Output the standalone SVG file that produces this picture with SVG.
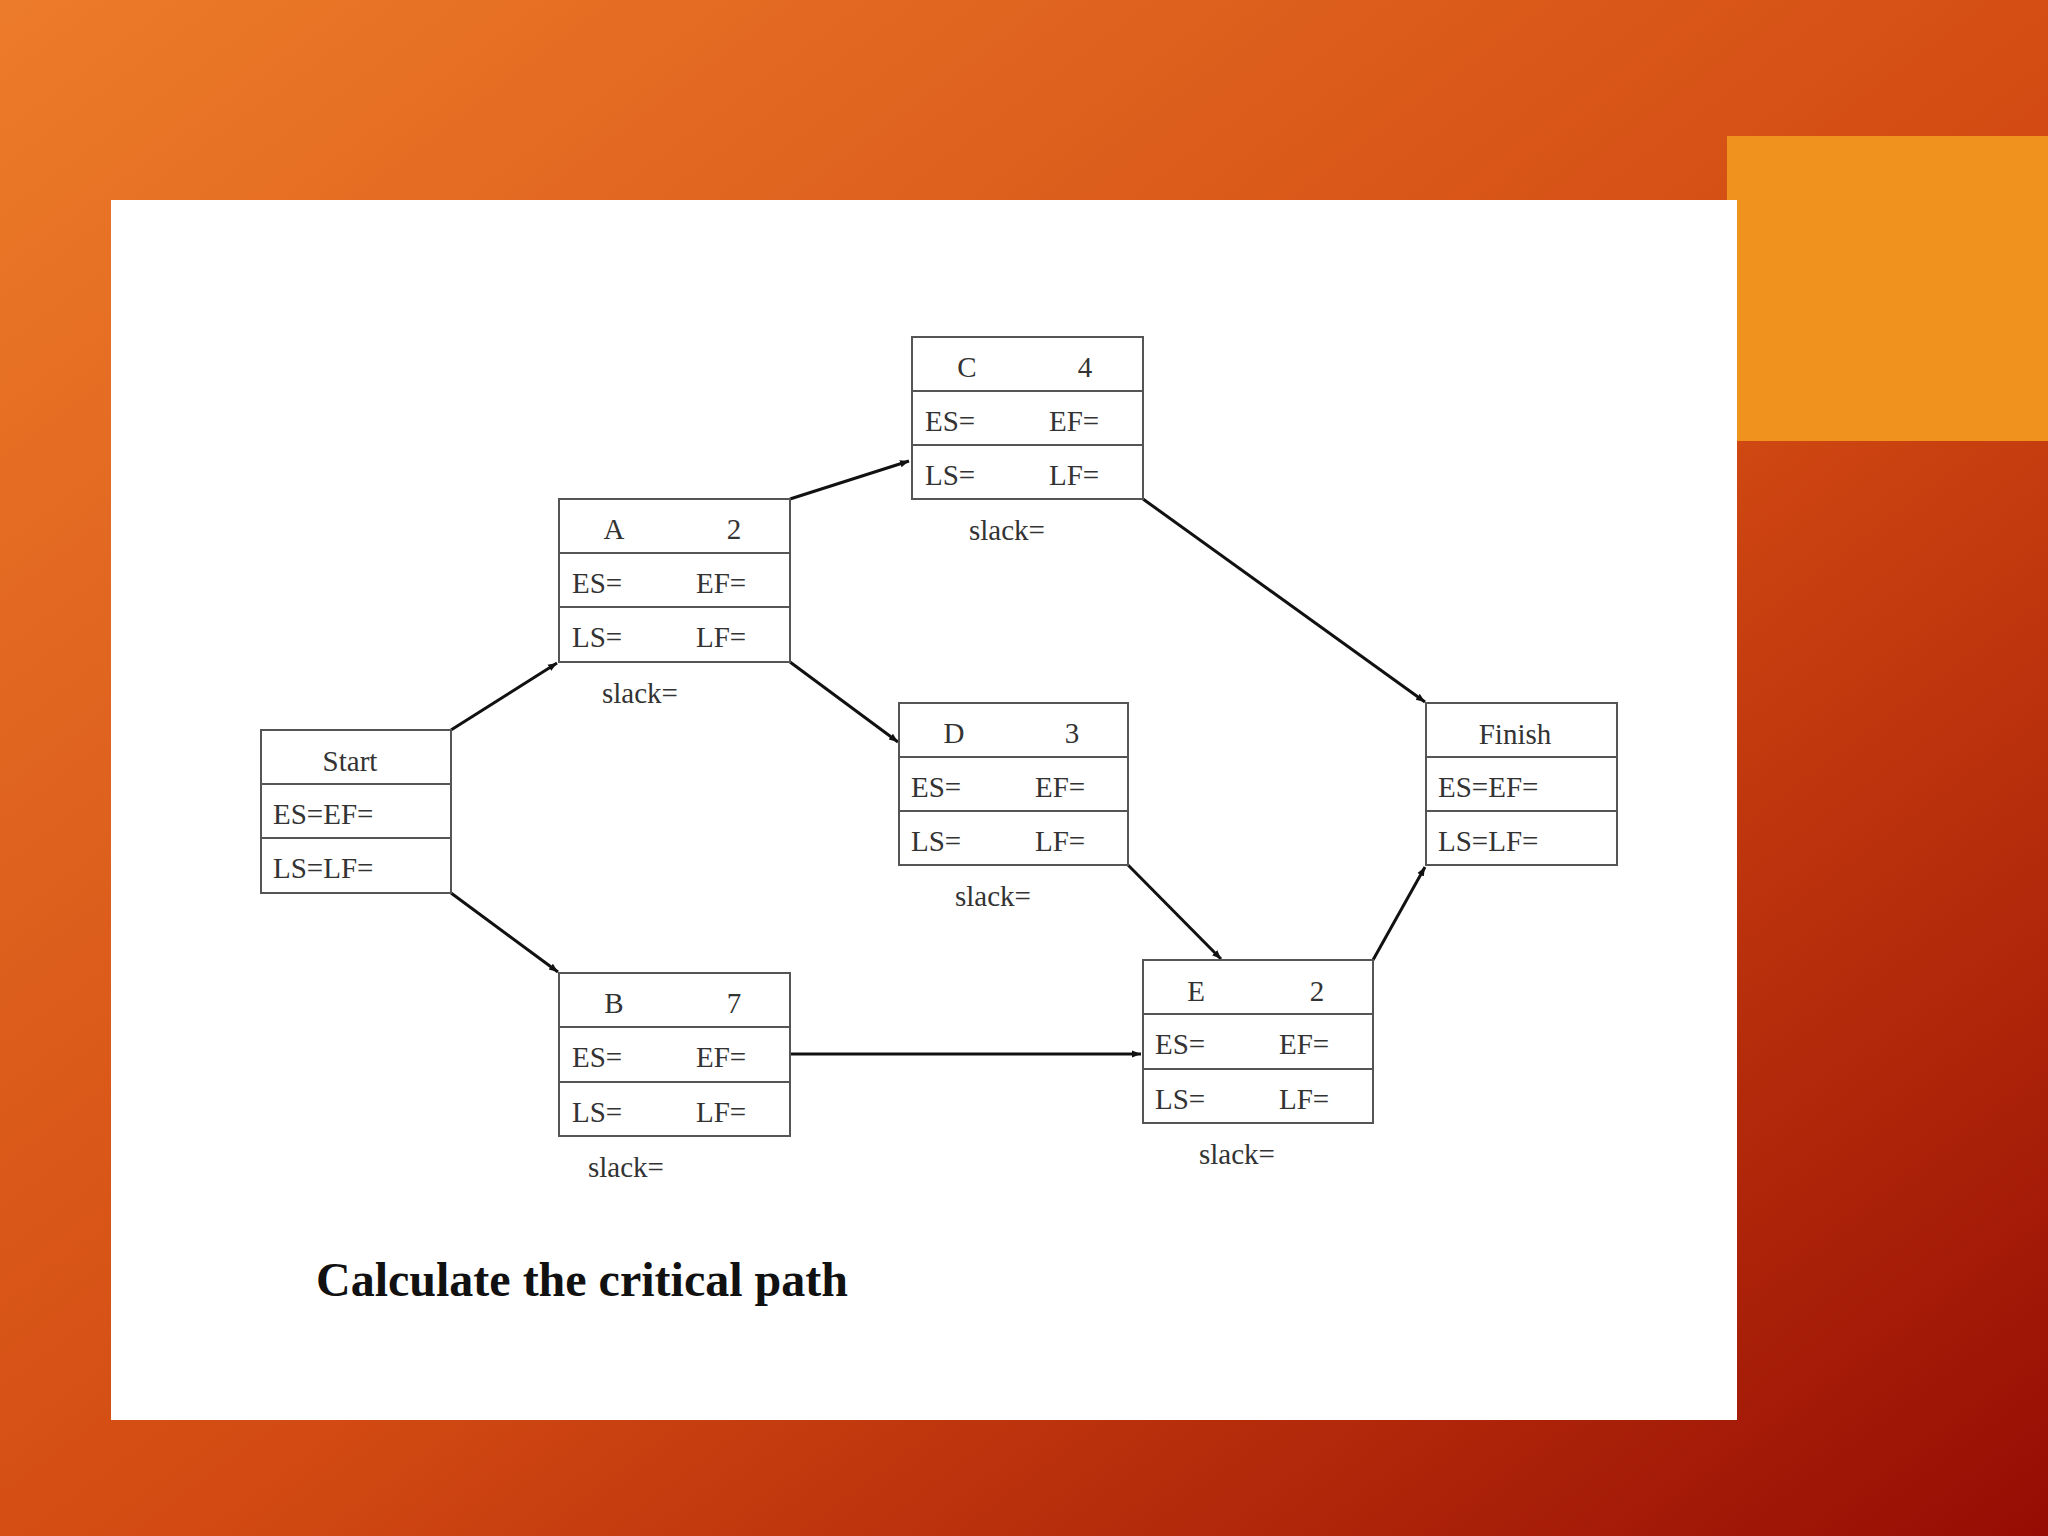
<svg xmlns="http://www.w3.org/2000/svg" width="2048" height="1536" viewBox="0 0 2048 1536">
<defs>
<linearGradient id="bg" x1="0" y1="0" x2="1" y2="1">
<stop offset="0" stop-color="#ec7b2a"/><stop offset="0.55" stop-color="#d24a12"/><stop offset="1" stop-color="#960c04"/>
</linearGradient>
<marker id="ah" viewBox="0 0 10 10" refX="10" refY="5" markerWidth="9" markerHeight="9" orient="auto" markerUnits="userSpaceOnUse"><path d="M0,1 L10,5 L0,9 Z" fill="#111"/></marker>
<style>
.b{fill:#fff;stroke:#555;stroke-width:2}
.t{font-family:"Liberation Serif",serif;font-size:29px;fill:#333}
.m{text-anchor:middle}
.e{stroke:#111;stroke-width:3;fill:none;marker-end:url(#ah)}
</style>
</defs>
<rect width="2048" height="1536" fill="url(#bg)"/>
<rect x="1727" y="136" width="321" height="305" fill="#ef921e"/>
<rect x="111" y="200" width="1626" height="1220" fill="#fff"/>
<g id="connectors">
<line class="e" x1="451" y1="730" x2="557" y2="663"/>
<line class="e" x1="790" y1="499" x2="909" y2="461"/>
<line class="e" x1="790" y1="662" x2="898" y2="742"/>
<line class="e" x1="1143" y1="499" x2="1425" y2="702"/>
<line class="e" x1="451" y1="893" x2="558" y2="972"/>
<line class="e" x1="790" y1="1054" x2="1141" y2="1054"/>
<line class="e" x1="1128" y1="865" x2="1221" y2="959"/>
<line class="e" x1="1373" y1="960" x2="1425" y2="867"/>
</g>
<g id="C"><rect class="b" x="912" y="337" width="231" height="162"/><line class="b" x1="912" y1="391" x2="1143" y2="391"/><line class="b" x1="912" y1="445" x2="1143" y2="445"/>
<text class="t m" x="967" y="377">C</text><text class="t m" x="1085" y="377">4</text><text class="t" x="925" y="431">ES=</text><text class="t" x="1049" y="431">EF=</text><text class="t" x="925" y="485">LS=</text><text class="t" x="1049" y="485">LF=</text><text class="t" x="969" y="540">slack=</text></g>
<g id="A"><rect class="b" x="559" y="499" width="231" height="163"/><line class="b" x1="559" y1="553" x2="790" y2="553"/><line class="b" x1="559" y1="607" x2="790" y2="607"/>
<text class="t m" x="614" y="539">A</text><text class="t m" x="734" y="539">2</text><text class="t" x="572" y="593">ES=</text><text class="t" x="696" y="593">EF=</text><text class="t" x="572" y="647">LS=</text><text class="t" x="696" y="647">LF=</text><text class="t" x="602" y="703">slack=</text></g>
<g id="D"><rect class="b" x="899" y="703" width="229" height="162"/><line class="b" x1="899" y1="757" x2="1128" y2="757"/><line class="b" x1="899" y1="811" x2="1128" y2="811"/>
<text class="t m" x="954" y="743">D</text><text class="t m" x="1072" y="743">3</text><text class="t" x="911" y="797">ES=</text><text class="t" x="1035" y="797">EF=</text><text class="t" x="911" y="851">LS=</text><text class="t" x="1035" y="851">LF=</text><text class="t" x="955" y="906">slack=</text></g>
<g id="Start"><rect class="b" x="261" y="730" width="190" height="163"/><line class="b" x1="261" y1="784" x2="451" y2="784"/><line class="b" x1="261" y1="838" x2="451" y2="838"/>
<text class="t m" x="350" y="771">Start</text><text class="t" x="273" y="824">ES=EF=</text><text class="t" x="273" y="878">LS=LF=</text></g>
<g id="Finish"><rect class="b" x="1426" y="703" width="191" height="162"/><line class="b" x1="1426" y1="757" x2="1617" y2="757"/><line class="b" x1="1426" y1="811" x2="1617" y2="811"/>
<text class="t m" x="1515" y="744">Finish</text><text class="t" x="1438" y="797">ES=EF=</text><text class="t" x="1438" y="851">LS=LF=</text></g>
<g id="B"><rect class="b" x="559" y="973" width="231" height="163"/><line class="b" x1="559" y1="1027" x2="790" y2="1027"/><line class="b" x1="559" y1="1082" x2="790" y2="1082"/>
<text class="t m" x="614" y="1013">B</text><text class="t m" x="734" y="1013">7</text><text class="t" x="572" y="1067">ES=</text><text class="t" x="696" y="1067">EF=</text><text class="t" x="572" y="1122">LS=</text><text class="t" x="696" y="1122">LF=</text><text class="t" x="588" y="1177">slack=</text></g>
<g id="E"><rect class="b" x="1143" y="960" width="230" height="163"/><line class="b" x1="1143" y1="1014" x2="1373" y2="1014"/><line class="b" x1="1143" y1="1069" x2="1373" y2="1069"/>
<text class="t m" x="1196" y="1001">E</text><text class="t m" x="1317" y="1001">2</text><text class="t" x="1155" y="1054">ES=</text><text class="t" x="1279" y="1054">EF=</text><text class="t" x="1155" y="1109">LS=</text><text class="t" x="1279" y="1109">LF=</text><text class="t" x="1199" y="1164">slack=</text></g>
<text x="316" y="1296" font-family="Liberation Serif,serif" font-weight="bold" font-size="48" fill="#111">Calculate the critical path</text>
</svg>
